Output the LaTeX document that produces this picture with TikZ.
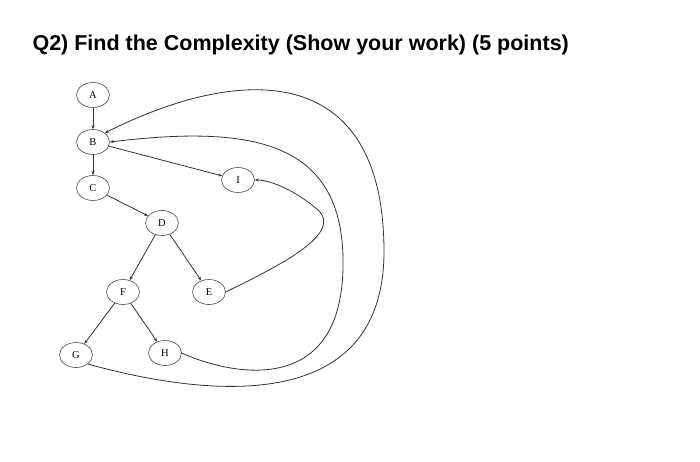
\documentclass[tikz,border=0pt]{standalone}
\usepackage{fontspec}
\setmainfont{Liberation Serif}
\newfontfamily\titlefont{Liberation Sans}
\usetikzlibrary{arrows.meta,shapes.geometric}
\begin{document}
\begin{tikzpicture}[x=1pt,y=-1pt,
  vx/.style={draw=black!70,line width=0.6pt,ellipse,minimum width=33pt,minimum height=25pt,inner sep=0pt,font=\fontsize{10.5}{12}\selectfont},
  ed/.style={draw=black!80,line width=0.8pt,-{Stealth[length=4pt,width=3pt]}}]
\useasboundingbox (0,0) rectangle (700,461);
\node[anchor=west,font=\titlefont\bfseries\fontsize{21.5}{24}\selectfont] (t) at (29,45) {Q2) Find the Complexity (Show your work) (5 points)};
\node[vx] (A) at (93,95) {A};
\node[vx] (B) at (93,142) {B};
\node[vx] (C) at (93,188) {C};
\node[vx] (I) at (238,180) {I};
\node[vx] (D) at (162,223) {D};
\node[vx] (F) at (123,292) {F};
\node[vx] (E) at (209,292) {E};
\node[vx] (G) at (76,355) {G};
\node[vx] (H) at (165,353) {H};
\draw[ed] (A) -- (B);
\draw[ed] (B) -- (C);
\draw[ed] (B) -- (I);
\draw[ed] (C) -- (D);
\draw[ed] (D) -- (F);
\draw[ed] (D) -- (E);
\draw[ed] (F) -- (G);
\draw[ed] (F) -- (H);
\draw[ed] (E.east) .. controls (270,270) and (345,235) .. (318,210) .. controls (295,190) and (270,180) .. (I.east);
\draw[ed] (H.east) .. controls (230,375) and (345,400) .. (343,260) .. controls (342,140) and (250,125) .. (B.east);
\draw[ed] (G.south east) .. controls (200,395) and (385,420) .. (384,250) .. controls (383,60) and (240,65) .. (B.north east);
\end{tikzpicture}
\end{document}
